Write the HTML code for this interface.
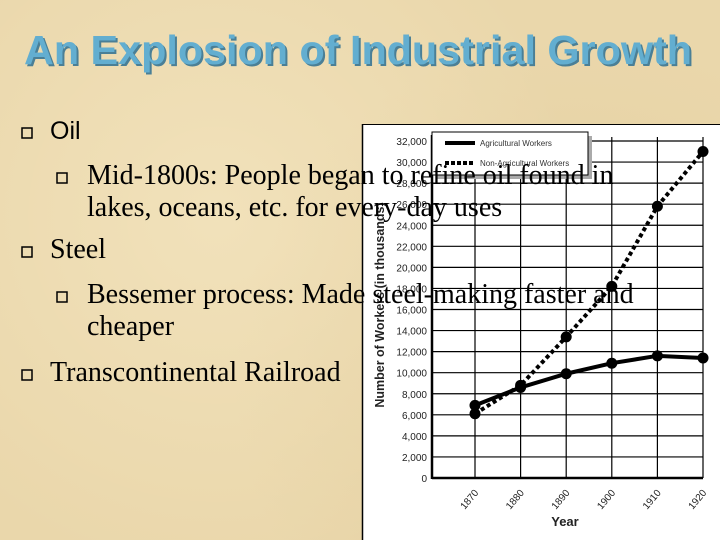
<!DOCTYPE html>
<html><head><meta charset="utf-8">
<style>
html,body{margin:0;padding:0}
body{width:720px;height:540px;overflow:hidden;background:#ead7ab;position:relative;
background-image:radial-gradient(circle at 30% 40%,rgba(255,245,215,.35),transparent 60%),radial-gradient(circle at 80% 70%,rgba(200,170,110,.18),transparent 50%);}
svg{position:absolute;left:0;top:0}
</style></head><body>
<svg width="720" height="540" font-family="Liberation Sans, sans-serif">
  <text x="358" y="64" text-anchor="middle" font-size="41" font-weight="bold" fill="#4a7f96" transform="translate(2,2)" textLength="668" lengthAdjust="spacingAndGlyphs">An Explosion of Industrial Growth</text>
  <text x="358" y="64" text-anchor="middle" font-size="41" font-weight="bold" fill="#63aed0" textLength="668" lengthAdjust="spacingAndGlyphs">An Explosion of Industrial Growth</text>

  <g id="chart">
    <rect x="362" y="124" width="358" height="416" fill="#fff"/>
    <line x1="362.5" y1="124" x2="362.5" y2="540" stroke="#000" stroke-width="1.5"/>
    <line x1="362" y1="124.5" x2="720" y2="124.5" stroke="#000" stroke-width="1"/>
    <g id="grid"></g>
    <g id="series"></g>
    <g id="legend">
      <rect x="436" y="136" width="156" height="43" fill="#aaa"/>
      <rect x="432" y="132" width="156" height="43" fill="#fff" stroke="#000" stroke-width="1"/>
      <line x1="445" y1="143" x2="475" y2="143" stroke="#000" stroke-width="4"/>
      <text x="480" y="146" font-size="8" fill="#333">Agricultural Workers</text>
      <line x1="445" y1="163" x2="475" y2="163" stroke="#000" stroke-width="4" stroke-dasharray="4,2"/>
      <text x="480" y="166" font-size="8" fill="#333">Non-Agricultural Workers</text>
    </g>
    <text transform="translate(384,305) rotate(-90)" text-anchor="middle" font-size="12.5" font-weight="bold" fill="#222">Number of Workers (in thousands)</text>
    <text x="565" y="526" text-anchor="middle" font-size="13" font-weight="bold" fill="#222">Year</text>
  </g>

  <g font-family="Liberation Serif, serif" font-size="28" fill="#000">
    <rect x="22" y="128" width="10" height="10" fill="none" stroke="#000" stroke-width="1.5"/>
    <text x="50" y="139" font-family="Liberation Sans, sans-serif" font-size="25">Oil</text>
    <rect x="57" y="173" width="10" height="10" fill="none" stroke="#000" stroke-width="1.5"/>
    <text x="87" y="184">Mid-1800s: People began to refine oil found in</text>
    <text x="87" y="216">lakes, oceans, etc. for every-day uses</text>
    <rect x="22" y="247" width="10" height="10" fill="none" stroke="#000" stroke-width="1.5"/>
    <text x="50" y="258">Steel</text>
    <rect x="57" y="292" width="10" height="10" fill="none" stroke="#000" stroke-width="1.5"/>
    <text x="87" y="303">Bessemer process: Made steel-making faster and</text>
    <text x="87" y="335">cheaper</text>
    <rect x="22" y="370" width="10" height="10" fill="none" stroke="#000" stroke-width="1.5"/>
    <text x="50" y="381">Transcontinental Railroad</text>
  </g>
</svg>
<script>
const years = [1870, 1880, 1890, 1900, 1910, 1920];
const agricultural = [6900, 8600, 9900, 10900, 11600, 11400];
const nonAgricultural = [6100, 8800, 13400, 18200, 25800, 31000];
const yTicks = [0,2000,4000,6000,8000,10000,12000,14000,16000,18000,20000,22000,24000,26000,28000,30000,32000];
const yTickLabels = ["0","2,000","4,000","6,000","8,000","10,000","12,000","14,000","16,000","18,000","20,000","22,000","24,000","26,000","28,000","30,000","32,000"];

const NS = "http://www.w3.org/2000/svg";
const X0 = 475, X1 = 703, Y0 = 478, Y1 = 141, AXL = 432;
function xs(y){ return X0 + (y - years[0]) / (years[years.length-1] - years[0]) * (X1 - X0); }
function ys(v){ return Y0 - v / 32000 * (Y0 - Y1); }
function mk(tag, attrs, parent){ const e=document.createElementNS(NS,tag); for(const k in attrs) e.setAttribute(k, attrs[k]); parent.appendChild(e); return e; }

const grid = document.getElementById('grid');
yTicks.forEach((v,i)=>{
  const y = ys(v);
  if (v>0){
    const l = mk('line',{x1:AXL,x2:X1,y1:y,y2:y,stroke:'#000','stroke-width':1.2},grid);
    
    
  }
  const t = mk('text',{x:427,y:y+4,'text-anchor':'end','font-size':10,fill:'#222'},grid);
  t.textContent = yTickLabels[i];
  
  
});
years.forEach(yr=>{
  const x = xs(yr);
  const l = mk('line',{x1:x,x2:x,y1:Y1-4,y2:Y0,stroke:'#000','stroke-width':1.2},grid);
  
  
  const t = mk('text',{transform:`translate(${x+4},${Y0+15}) rotate(-50)`,'text-anchor':'end','font-size':10,fill:'#222'},grid);
  t.textContent = yr;
  
  
});
const ya = mk('line',{x1:AXL,x2:AXL,y1:Y1-6,y2:Y0+1,stroke:'#000','stroke-width':2.5},grid);


const xa = mk('line',{x1:AXL,x2:X1,y1:Y0,y2:Y0,stroke:'#000','stroke-width':2.5},grid);



const ser = document.getElementById('series');
function drawSeries(vals, dashed, name){
  const pts = years.map((yr,i)=>xs(yr)+','+ys(vals[i])).join(' ');
  const p = mk('polyline',{points:pts,fill:'none',stroke:'#000','stroke-width':4,'stroke-dasharray':dashed?'4,3':'none'},ser);
  
  
  years.forEach((yr,i)=>{
    const c = mk('circle',{cx:xs(yr),cy:ys(vals[i]),r:5.5,fill:'#000'},ser);
    
    
  });
}
drawSeries(agricultural,false,'agricultural');
drawSeries(nonAgricultural,true,'nonagricultural');
</script>
</body></html>
